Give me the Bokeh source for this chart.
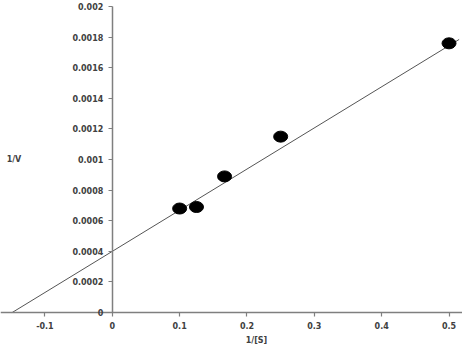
from bokeh.plotting import figure
from bokeh.models import (LinearAxis, FixedTicker, CustomJSTickFormatter, Range1d,
                          Label, ColumnDataSource)
from bokeh.embed import file_html
from bokeh.resources import INLINE

# data
inv_s = [0.1, 0.125, 0.1667, 0.25, 0.5]
inv_v = [0.00068, 0.00069, 0.00089, 0.00115, 0.00176]
fit_x = [-0.149, 0.515]
fit_intercept = 0.0004
fit_slope = 0.00269
fit_y = [fit_intercept + fit_slope * x for x in fit_x]
x_ticks = [-0.1, 0, 0.1, 0.2, 0.3, 0.4, 0.5]
y_ticks = [0, 0.0002, 0.0004, 0.0006, 0.0008, 0.001, 0.0012, 0.0014, 0.0016, 0.0018, 0.002]

p = figure(width=462, height=346, output_backend="svg", toolbar_location=None,
           x_range=Range1d(-0.166, 0.52), y_range=Range1d(-0.000222, 0.00204),
           x_axis_location=None, y_axis_location=None,
           min_border_left=0, min_border_right=0, min_border_top=0, min_border_bottom=0)
p.grid.visible = False
p.outline_line_color = None

fmt = CustomJSTickFormatter(code="return parseFloat(tick.toFixed(5)).toString();")

xa = LinearAxis(ticker=FixedTicker(ticks=x_ticks), formatter=fmt, fixed_location=0)
ya = LinearAxis(ticker=FixedTicker(ticks=y_ticks), formatter=fmt, fixed_location=0,
                bounds=(0, 0.002))
for ax in (xa, ya):
    ax.axis_line_color = "#7f7f7f"
    ax.axis_line_width = 1.5
    ax.major_tick_line_color = "#7f7f7f"
    ax.major_tick_line_width = 1.2
    ax.major_tick_out = 4
    ax.major_tick_in = 0
    ax.minor_tick_line_color = None
    ax.major_label_text_font = "DejaVu Sans"
    ax.major_label_text_font_style = "bold"
    ax.major_label_text_font_size = "8px"
    ax.major_label_text_color = "#404040"
    ax.major_label_standoff = 5
p.add_layout(xa, "below")
p.add_layout(ya, "left")

p.line(fit_x, fit_y, line_color="#555555", line_width=1)
src = ColumnDataSource(dict(x=inv_s, y=inv_v))
p.ellipse(x="x", y="y", width=14, height=11, width_units="screen", height_units="screen",
          source=src, fill_color="black", line_color="black")

p.add_layout(Label(x=-0.146, y=0.001, text="1/V", text_font="DejaVu Sans",
                   text_font_style="bold", text_font_size="8px", text_color="#404040",
                   text_baseline="middle", text_align="center"))
p.add_layout(Label(x=0.214, y=-0.00018, text="1/[S]", text_font="DejaVu Sans",
                   text_font_style="bold", text_font_size="8px", text_color="#404040",
                   text_baseline="middle", text_align="center"))

open("out.html", "w").write(file_html(p, INLINE))
